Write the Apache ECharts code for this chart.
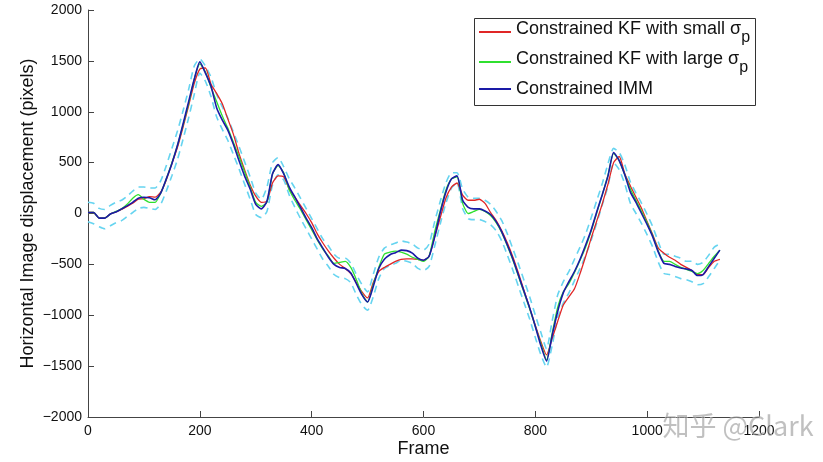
<!DOCTYPE html>
<html>
<head>
<meta charset="utf-8">
<script src="https://cdn.jsdelivr.net/npm/echarts@6/dist/echarts.min.js"></script>
<style>html,body{margin:0;padding:0;background:#fff}#c{width:823px;height:462px}</style>
</head>
<body>
<div id="c"></div>
<script>
// Frames (x values), every 10 frames
const frames = [];
for (let f = 0; f <= 1130; f += 10) frames.push(f);

const xTicks = [0, 200, 400, 600, 800, 1000, 1200];
const yTicks = [-2000, -1500, -1000, -500, 0, 500, 1000, 1500, 2000];

const seriesNames = ['Constrained KF with small σp', 'Constrained KF with large σp', 'Constrained IMM'];

// Constrained KF with small sigma_p (red)
const kfSmall = [10,10,-45,-45,-5,15,40,70,100,140,145,165,160,210,330,490,650,850,1060,1280,
 1420,1430,1270,1180,1080,930,780,590,430,280,170,110,120,300,370,360,240,160,80,0,
 -90,-200,-290,-370,-440,-500,-540,-590,-680,-770,-830,-680,-570,-530,-500,-470,-450,-445,-445,-450,
 -460,-420,-230,-40,150,260,300,180,130,130,140,100,10,-70,-170,-290,-430,-590,-760,-930,
 -1100,-1260,-1390,-1230,-1060,-900,-820,-740,-590,-420,-240,-70,100,290,500,560,390,270,160,50,
 -80,-210,-340,-390,-430,-460,-500,-530,-560,-600,-600,-530,-470,-450];

// Constrained KF with large sigma_p (green)
const kfLarge = [10,10,-45,-45,-5,20,45,90,150,185,140,110,110,200,340,500,670,870,1080,1320,
 1470,1390,1240,1100,960,840,700,560,410,260,110,70,110,390,470,400,230,130,40,-60,
 -160,-260,-350,-420,-490,-480,-470,-530,-650,-790,-870,-700,-530,-400,-380,-370,-380,-400,-430,-450,
 -470,-420,-180,30,230,340,360,100,0,20,40,20,-20,-90,-190,-320,-460,-620,-780,-940,
 -1110,-1280,-1440,-1180,-920,-770,-690,-580,-460,-330,-170,10,190,380,590,520,380,240,130,20,
 -90,-220,-370,-470,-470,-500,-530,-550,-570,-590,-560,-490,-420,-360];

// Constrained IMM (blue)
const imm = [10,10,-45,-45,-5,15,45,75,110,150,160,155,135,200,340,490,670,880,1100,1320,
 1490,1380,1250,1040,920,820,680,520,370,240,90,45,120,390,480,390,260,160,60,-45,
 -140,-250,-340,-430,-500,-530,-540,-585,-690,-800,-870,-720,-540,-450,-405,-385,-360,-365,-390,-440,
 -460,-420,-230,10,210,340,370,130,60,45,45,25,-10,-80,-180,-310,-450,-610,-770,-930,
 -1110,-1300,-1450,-1200,-960,-780,-670,-570,-450,-310,-160,20,190,370,600,520,380,210,110,0,
 -110,-230,-380,-490,-500,-520,-535,-545,-560,-610,-600,-520,-440,-360];

// Dashed bounds (cyan)
const upperBound = [110,100,50,40,80,110,130,170,220,260,260,250,250,320,470,640,810,1010,1220,1450,
 1520,1450,1340,1170,1050,940,800,660,510,360,200,140,260,500,550,460,340,250,150,50,
 -50,-150,-250,-320,-400,-440,-440,-490,-600,-700,-770,-600,-430,-340,-310,-290,-270,-280,-300,-340,
 -360,-300,-80,120,300,400,400,240,160,150,150,130,90,20,-70,-200,-350,-500,-660,-820,
 -1000,-1170,-1330,-1060,-800,-670,-570,-450,-330,-200,-40,130,300,490,640,600,480,310,200,100,
 -10,-130,-280,-400,-400,-420,-440,-470,-470,-500,-480,-410,-330,-300];

const lowerBound = [-80,-100,-130,-150,-120,-90,-70,-30,10,50,60,50,40,90,220,370,530,730,940,1170,
 1380,1300,1150,950,830,720,580,440,290,140,-10,-40,20,280,380,330,180,60,-50,-150,
 -250,-350,-450,-520,-600,-630,-640,-680,-800,-900,-950,-820,-640,-540,-510,-490,-460,-470,-490,-540,
 -560,-520,-320,-100,100,250,300,50,-50,-60,-60,-80,-110,-170,-270,-410,-560,-720,-880,-1040,
 -1220,-1390,-1510,-1300,-1020,-880,-780,-660,-540,-410,-260,-90,90,270,500,430,290,100,0,-100,
 -210,-330,-480,-590,-600,-620,-640,-650,-670,-700,-690,-620,-540,-460];

function pairs(vals) { return frames.map((f, i) => [f, vals[i]]); }

const FONT = '"Liberation Sans", Arial, Helvetica, sans-serif';
const chart = echarts.init(document.getElementById('c'), null, {renderer: 'canvas'});

const dashedStyle = {color: '#66d4f0', width: 1.6, type: [7, 5]};

function legendFor(name, top) {
  return {
    show: true, left: 479, top: top, orient: 'vertical',
    itemWidth: 32, itemHeight: 2, padding: 0, icon: 'rect',
    data: [name],
    formatter: function (n) {
      if (n.endsWith('σp')) return '{t|' + n.slice(0, -1) + '}{sub|p}';
      return n;
    },
    textStyle: {fontFamily: FONT, fontSize: 18, color: '#111',
      rich: {
        t: {fontFamily: FONT, fontSize: 18, color: '#111', padding: [0, 0, 6, 0]},
        sub: {fontFamily: FONT, fontSize: 16, color: '#111', padding: [12, 0, 0, 0]}
      }}
  };
}

chart.setOption({
  animation: false,
  backgroundColor: '#ffffff',
  grid: {left: 88, right: 64, top: 10, bottom: 45, containLabel: false, outerBoundsMode: 'none'},
  xAxis: {
    type: 'value', min: 0, max: 1200, interval: 200,
    name: 'Frame', nameLocation: 'middle', nameGap: 23, nameMoveOverlap: false,
    nameTextStyle: {fontFamily: FONT, fontSize: 18, color: '#111'},
    axisLine: {show: true, onZero: false, lineStyle: {color: '#444', width: 1}},
    axisTick: {show: true, inside: true, length: 6, lineStyle: {color: '#444'}},
    axisLabel: {fontFamily: FONT, fontSize: 14, color: '#111', margin: 7,
      formatter: v => xTicks.includes(v) ? String(v) : ''},
    splitLine: {show: false}
  },
  yAxis: {
    type: 'value', min: -2000, max: 2000, interval: 500,
    name: 'Horizontal Image displacement (pixels)', nameLocation: 'middle', nameGap: 51, nameMoveOverlap: false,
    nameTextStyle: {fontFamily: FONT, fontSize: 18, color: '#111'},
    axisLine: {show: true, onZero: false, lineStyle: {color: '#444', width: 1}},
    axisTick: {show: true, inside: true, length: 6, lineStyle: {color: '#444'}},
    axisLabel: {fontFamily: FONT, fontSize: 14, color: '#111', margin: 6,
      formatter: v => yTicks.includes(v) ? String(v).replace('-', '\u2212') : ''},
    splitLine: {show: false}
  },
  legend: [
    legendFor(seriesNames[0], 20),
    legendFor(seriesNames[1], 50),
    legendFor(seriesNames[2], 80)
  ],
  graphic: [
    {type: 'rect', left: 472, top: 16, shape: {width: 281, height: 87},
      style: {fill: 'none', stroke: '#333', lineWidth: 1}, z: 100},
    {type: 'text', left: 662, top: 412, z: 200,
      style: {text: '知乎 @Clark', font: '27px "Noto Sans CJK SC", sans-serif',
        fill: 'rgba(140,140,140,0.55)', stroke: 'rgba(255,255,255,0.5)', lineWidth: 1}}
  ],
  series: [
    {name: 'upper', type: 'line', data: pairs(upperBound), symbol: 'none', smooth: 0.2,
      lineStyle: dashedStyle, z: 1, silent: true},
    {name: 'lower', type: 'line', data: pairs(lowerBound), symbol: 'none', smooth: 0.2,
      lineStyle: dashedStyle, z: 1, silent: true},
    {name: seriesNames[0], type: 'line', data: pairs(kfSmall), symbol: 'none', smooth: 0.2,
      color: '#e02626', lineStyle: {color: '#e02626', width: 1.3}, z: 2},
    {name: seriesNames[1], type: 'line', data: pairs(kfLarge), symbol: 'none', smooth: 0.2,
      color: '#2fe02f', lineStyle: {color: '#2fe02f', width: 1.3}, z: 3},
    {name: seriesNames[2], type: 'line', data: pairs(imm), symbol: 'none', smooth: 0.2,
      color: '#1a1aa6', lineStyle: {color: '#1a1aa6', width: 1.6}, z: 4}
  ]
});
</script>
</body>
</html>
